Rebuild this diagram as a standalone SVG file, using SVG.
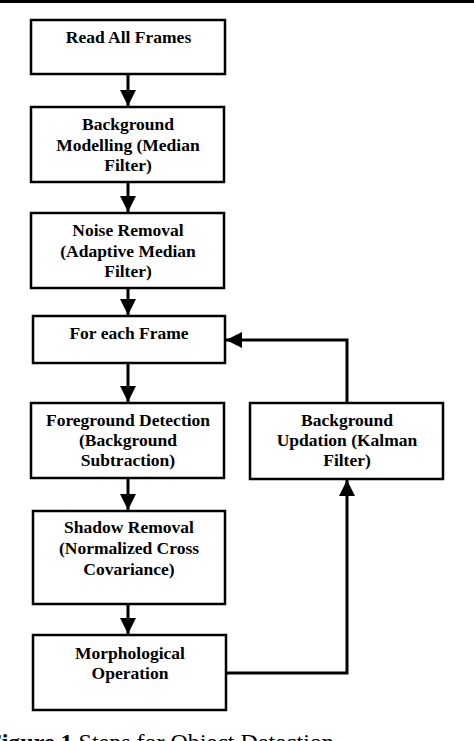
<svg xmlns="http://www.w3.org/2000/svg" width="474" height="741" viewBox="0 0 474 741">
<style>
  .box { fill: #fff; stroke: #000; stroke-width: 2.5; }
  .lbl { font-family: "Liberation Serif", "Times New Roman", serif; font-weight: bold; font-size: 17.5px; text-anchor: middle; fill: #000; }
  .con { fill: none; stroke: #000; stroke-width: 3; }
  .cap { font-family: "Liberation Serif", "Times New Roman", serif; font-size: 24px; fill: #000; }
</style>
<defs>
  <marker id="ah" markerUnits="userSpaceOnUse" viewBox="0 0 16 16" refX="16" refY="8" markerWidth="16" markerHeight="16" orient="auto">
    <path d="M0,0 L16,8 L0,16 Z" fill="#000"/>
  </marker>
</defs>
<rect x="0" y="0" width="474" height="741" fill="#fff"/>
<rect x="0" y="0" width="474" height="3" fill="#000"/>

<g id="connectors">
  <line class="con" x1="128" y1="74" x2="128" y2="106" marker-end="url(#ah)"/>
  <line class="con" x1="128" y1="182" x2="128" y2="212" marker-end="url(#ah)"/>
  <line class="con" x1="128" y1="288" x2="128" y2="315" marker-end="url(#ah)"/>
  <line class="con" x1="128" y1="363" x2="128" y2="402" marker-end="url(#ah)"/>
  <line class="con" x1="128" y1="478" x2="128" y2="510" marker-end="url(#ah)"/>
  <line class="con" x1="128" y1="604" x2="128" y2="634" marker-end="url(#ah)"/>
  <polyline class="con" points="226,673 347,673 347,480" marker-end="url(#ah)"/>
  <polyline class="con" points="347,403 347,340 226,340" marker-end="url(#ah)"/>
</g>

<g id="read-all-frames">
  <rect class="box" x="31" y="20" width="194" height="54"/>
  <text class="lbl" x="128.5" y="43">Read All Frames</text>
</g>
<g id="background-modelling">
  <rect class="box" x="31" y="107" width="193" height="75"/>
  <text class="lbl" x="128" y="130">Background</text>
  <text class="lbl" x="128" y="150.5">Modelling (Median</text>
  <text class="lbl" x="128" y="171">Filter)</text>
</g>
<g id="noise-removal">
  <rect class="box" x="31" y="213" width="193" height="75"/>
  <text class="lbl" x="128" y="236">Noise Removal</text>
  <text class="lbl" x="128" y="256.7">(Adaptive Median</text>
  <text class="lbl" x="128" y="276.7">Filter)</text>
</g>
<g id="for-each-frame">
  <rect class="box" x="33" y="316" width="192" height="47"/>
  <text class="lbl" x="129" y="339">For each Frame</text>
</g>
<g id="foreground-detection">
  <rect class="box" x="31" y="403" width="193" height="75"/>
  <text class="lbl" x="128" y="425.7">Foreground Detection</text>
  <text class="lbl" x="128" y="445.7">(Background</text>
  <text class="lbl" x="128" y="466">Subtraction)</text>
</g>
<g id="background-updation">
  <rect class="box" x="250" y="403" width="193" height="76"/>
  <text class="lbl" x="347" y="425.7">Background</text>
  <text class="lbl" x="347" y="446">Updation (Kalman</text>
  <text class="lbl" x="347" y="466">Filter)</text>
</g>
<g id="shadow-removal">
  <rect class="box" x="33" y="511" width="192" height="93"/>
  <text class="lbl" x="129" y="533">Shadow Removal</text>
  <text class="lbl" x="129" y="554">(Normalized Cross</text>
  <text class="lbl" x="129" y="575">Covariance)</text>
</g>
<g id="morphological-operation">
  <rect class="box" x="33" y="635" width="193" height="75"/>
  <text class="lbl" x="130" y="659">Morphological</text>
  <text class="lbl" x="130" y="679">Operation</text>
</g>

<text class="cap" x="-13" y="750"><tspan font-weight="bold">Figure 1</tspan> Steps for Object Detection</text>
</svg>
